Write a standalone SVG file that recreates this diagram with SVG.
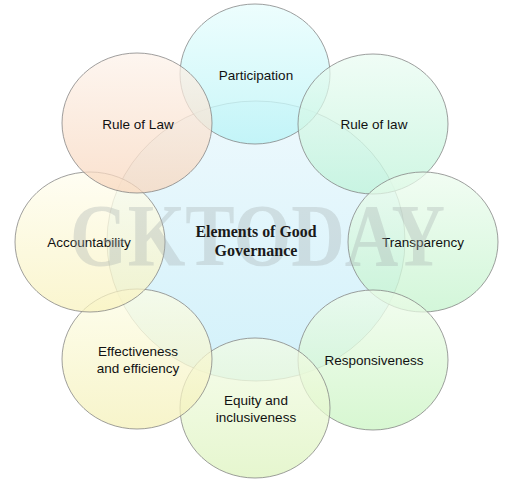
<svg xmlns="http://www.w3.org/2000/svg" width="515" height="482" viewBox="0 0 515 482">
<defs>
<linearGradient id="gC" x1="0" y1="0" x2="0" y2="1"><stop offset="0" stop-color="#eef9fd"/><stop offset="1" stop-color="#d2f1fa"/></linearGradient>
<linearGradient id="g1" x1="0" y1="0" x2="0" y2="1"><stop offset="0" stop-color="#e6fdfd"/><stop offset="1" stop-color="#b4f3f6"/></linearGradient>
<linearGradient id="g2" x1="0" y1="0" x2="0" y2="1"><stop offset="0" stop-color="#eafcf2"/><stop offset="1" stop-color="#bdf3d8"/></linearGradient>
<linearGradient id="g3" x1="0" y1="0" x2="0" y2="1"><stop offset="0" stop-color="#ecfcee"/><stop offset="1" stop-color="#c2f3cb"/></linearGradient>
<linearGradient id="g4" x1="0" y1="0" x2="0" y2="1"><stop offset="0" stop-color="#eefcea"/><stop offset="1" stop-color="#c8f4c0"/></linearGradient>
<linearGradient id="g5" x1="0" y1="0" x2="0" y2="1"><stop offset="0" stop-color="#f4fce6"/><stop offset="1" stop-color="#dcf3bc"/></linearGradient>
<linearGradient id="g6" x1="0" y1="0" x2="0" y2="1"><stop offset="0" stop-color="#fdfde6"/><stop offset="1" stop-color="#f4f0b6"/></linearGradient>
<linearGradient id="g7" x1="0" y1="0" x2="0" y2="1"><stop offset="0" stop-color="#fffdee"/><stop offset="1" stop-color="#f8f2bc"/></linearGradient>
<linearGradient id="g8" x1="0" y1="0" x2="0" y2="1"><stop offset="0" stop-color="#fdf2ea"/><stop offset="1" stop-color="#f8d6bc"/></linearGradient>
</defs>
<style>
.ring{fill-opacity:0.72;stroke:#7f7f7f;stroke-opacity:0.75;stroke-width:1}
.ctr{stroke:#8a8a8a;stroke-opacity:0.6;stroke-width:1}
.lbl{font-family:"Liberation Sans","Noto Sans",Arial,sans-serif;font-size:13.5px;fill:#111;text-anchor:middle}
.title{font-family:"Liberation Serif","Times New Roman",serif;font-weight:bold;font-size:16px;fill:#1a1a1a;text-anchor:middle}
.wm{font-family:"Liberation Serif","Times New Roman",serif;font-weight:bold;font-size:88px;fill:#a4acac;fill-opacity:0.33}
</style>
<rect width="515" height="482" fill="#ffffff"/>
<g id="center">
<ellipse class="ctr" cx="256" cy="241" rx="149" ry="140" fill="url(#gC)"/>
</g>
<g id="participation">
<ellipse class="ring" cx="255" cy="74" rx="75" ry="70" fill="url(#g1)"/>
<text class="lbl" x="256" y="80">Participation</text>
</g>
<g id="rule-of-law-right">
<ellipse class="ring" cx="373" cy="124" rx="75" ry="70" fill="url(#g2)"/>
<text class="lbl" x="374" y="129">Rule of law</text>
</g>
<g id="transparency">
<ellipse class="ring" cx="423" cy="242" rx="75" ry="70" fill="url(#g3)"/>
<text class="lbl" x="423" y="247">Transparency</text>
</g>
<g id="responsiveness">
<ellipse class="ring" cx="373" cy="360" rx="75" ry="70" fill="url(#g4)"/>
<text class="lbl" x="374" y="365">Responsiveness</text>
</g>
<g id="equity">
<ellipse class="ring" cx="255" cy="408" rx="75" ry="70" fill="url(#g5)"/>
<text class="lbl" x="256" y="405">Equity and</text>
<text class="lbl" x="256" y="422">inclusiveness</text>
</g>
<g id="effectiveness">
<ellipse class="ring" cx="137" cy="359" rx="75" ry="70" fill="url(#g6)"/>
<text class="lbl" x="138" y="356">Effectiveness</text>
<text class="lbl" x="138" y="373">and efficiency</text>
</g>
<g id="accountability">
<ellipse class="ring" cx="90" cy="242" rx="75" ry="70" fill="url(#g7)"/>
<text class="lbl" x="89" y="247">Accountability</text>
</g>
<g id="rule-of-law-left">
<ellipse class="ring" cx="137" cy="123" rx="75" ry="70" fill="url(#g8)"/>
<text class="lbl" x="138" y="129">Rule of Law</text>
</g>
<g id="connectors"/>
<text class="wm" x="70" y="265" textLength="375" lengthAdjust="spacingAndGlyphs">GKTODAY</text>
<g id="title">
<text class="title" x="256" y="237" textLength="121" lengthAdjust="spacingAndGlyphs">Elements of Good</text>
<text class="title" x="256" y="256" textLength="83" lengthAdjust="spacingAndGlyphs">Governance</text>
</g>
</svg>
